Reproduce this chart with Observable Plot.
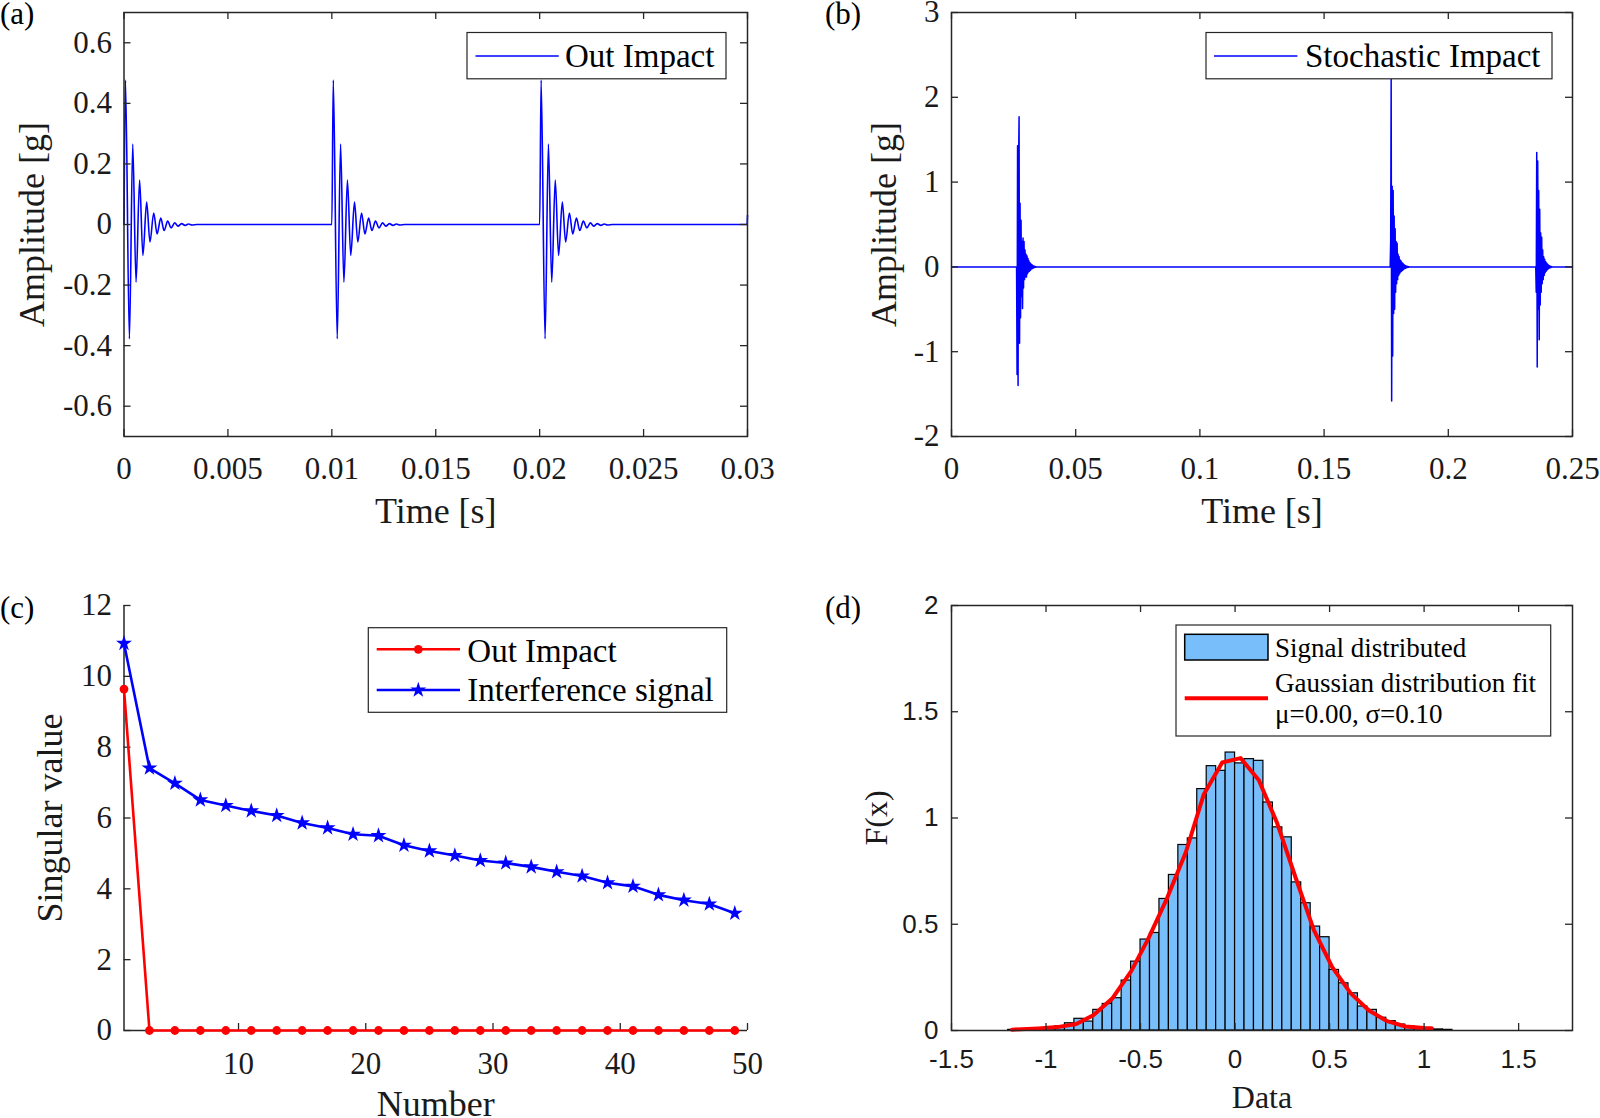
<!DOCTYPE html>
<html>
<head>
<meta charset="utf-8">
<script src="https://cdn.jsdelivr.net/npm/d3@7"></script>
<script src="https://cdn.jsdelivr.net/npm/@observablehq/plot@0.6"></script>
<style>
  html, body { margin: 0; padding: 0; background: #fff; overflow: hidden; }
  #fig { position: relative; width: 1600px; height: 1118px; overflow: hidden; background: #fff; }
  #fig svg { position: absolute; overflow: visible; }
</style>
</head>
<body>
<div id="fig"></div>
<script>
// ---------- (a) periodic outer-race impact: one damped burst, repeated ----------
const burstA_t = [0, 0.00007, 0.00026, 0.00042, 0.00058, 0.00075, 0.00091, 0.00109, 0.00125,
  0.00143, 0.00159, 0.00177, 0.00193, 0.0021, 0.00227, 0.00244, 0.0026, 0.00277, 0.00294,
  0.0031, 0.00327, 0.0035];
const burstA_v = [0, 0.477, -0.377, 0.266, -0.19, 0.147, -0.102, 0.074, -0.058,
  0.038, -0.031, 0.021, -0.02, 0.011, -0.011, 0.0055, -0.0055, 0.003, -0.003,
  0.0015, -0.0015, 0];
const onsetsA = [0, 0.01, 0.02];
const edgeA_t = [0.02998, 0.03];
const edgeA_v = [0, 0.03];
const xTicksA = [0, 0.005, 0.01, 0.015, 0.02, 0.025, 0.03];
const yTicksA = [-0.6, -0.4, -0.2, 0, 0.2, 0.4, 0.6];

// ---------- (b) stochastic impacts ----------
const onsetsB = [0.0262, 0.1766, 0.2352];
const stepB = 0.0002;
const burstB1 = [-1.27, 1.43, -1.40, 1.2, 1.77, -0.9, 0.75, -0.6, 0.55, -0.35, 0.3, -0.49, 0.34,
  -0.25, 0.3, -0.15, 0.2, -0.12, 0.15, -0.12, 0.13, -0.08, 0.1, -0.06, 0.07, -0.05, 0.05,
  -0.04, 0.035, -0.025, 0.025, -0.02, 0.015, -0.012, 0.01, -0.008, 0.005, -0.004, 0.002, 0];
const burstB2 = [0.3, 2.22, -1.58, 0.95, -1.05, 0.9, -0.55, 0.6, -0.5, 0.45, -0.3, 0.3, -0.2,
  0.28, -0.15, 0.15, -0.1, 0.12, -0.08, 0.08, -0.06, 0.07, -0.05, 0.05, -0.04, 0.04, -0.03,
  0.025, -0.02, 0.018, -0.015, 0.012, -0.01, 0.008, -0.006, 0.004, -0.003, 0.002, 0];
const burstB3 = [-0.3, 1.35, -1.18, 1.25, -0.5, 0.9, -0.86, 0.68, -0.45, 0.4, -0.3, 0.35, -0.2,
  0.2, -0.15, 0.12, -0.1, 0.09, -0.07, 0.06, -0.05, 0.045, -0.035, 0.03, -0.025, 0.02,
  -0.015, 0.012, -0.01, 0.008, -0.006, 0.004, 0];
const xTicksB = [0, 0.05, 0.1, 0.15, 0.2, 0.25];
const yTicksB = [-2, -1, 0, 1, 2, 3];

// ---------- (c) singular values ----------
const svIndex = [1, 3, 5, 7, 9, 11, 13, 15, 17, 19, 21, 23, 25, 27, 29, 31, 33, 35, 37, 39, 41, 43, 45, 47, 49];
const svOutImpact = [9.64, 0, 0, 0, 0, 0, 0, 0, 0, 0, 0, 0, 0, 0, 0, 0, 0, 0, 0, 0, 0, 0, 0, 0, 0];
const svInterference = [10.93, 7.41, 6.98, 6.51, 6.35, 6.20, 6.07, 5.86, 5.72, 5.54, 5.50, 5.23,
  5.07, 4.94, 4.80, 4.73, 4.62, 4.48, 4.36, 4.17, 4.07, 3.83, 3.68, 3.57, 3.31];
const xTicksC = [10, 20, 30, 40, 50];
const yTicksC = [0, 2, 4, 6, 8, 10, 12];

// ---------- (d) amplitude distribution ----------
const binStart = -1.2;
const binWidth = 0.05;
const binHeights = [0.003, 0.004, 0.006, 0.009, 0.014, 0.02, 0.034, 0.055, 0.042, 0.097,
  0.125, 0.152, 0.235, 0.324, 0.428, 0.459, 0.619, 0.732, 0.873, 0.904, 1.136, 1.244,
  1.222, 1.308, 1.257, 1.277, 1.269, 1.073, 0.956, 0.909, 0.697, 0.599, 0.489, 0.439,
  0.285, 0.222, 0.175, 0.113, 0.097, 0.060, 0.044, 0.028, 0.019, 0.0125, 0.008, 0.005, 0.003];
const fitX = [-1.18, -1.04, -0.94, -0.84, -0.75, -0.65, -0.55, -0.46, -0.36, -0.26, -0.165,
  -0.068, 0.029, 0.126, 0.223, 0.32, 0.417, 0.514, 0.611, 0.708, 0.805, 0.902, 0.999, 1.04];
const fitY = [0.004, 0.010, 0.016, 0.031, 0.072, 0.150, 0.278, 0.430, 0.622, 0.840, 1.112,
  1.261, 1.282, 1.178, 0.975, 0.72, 0.472, 0.298, 0.176, 0.094, 0.044, 0.019, 0.012, 0.011];
const xTicksD = [-1.5, -1, -0.5, 0, 0.5, 1, 1.5];
const yTicksD = [0, 0.5, 1, 1.5, 2];

// ---------- styling ----------
const BLUE = "#0000ff", RED = "#ff0000", AXIS = "#262626", INK = "#1a1a1a";
const BAR_FILL = "#77befa";
const SERIF = "'Liberation Serif', 'Times New Roman', Times, serif";
const SANS = "'Liberation Sans', Arial, Helvetica, sans-serif";
const fmt = d => d3.format("~g")(d).replace("\u2212", "-");
const baseStyle = {fontFamily: SERIF, fontSize: "31px", color: INK, background: "none", overflow: "visible"};
const DOT_R = 4.4, STAR_R = 5;

// inward tick marks along the frame edges
function innerTicks(xt, yt, fw, fh, {len = 7, top = true, right = true} = {}) {
  const o = {stroke: AXIS, strokeWidth: 1.3};
  const m = [
    Plot.ruleX(xt, {...o, insetTop: fh - len}),
    Plot.ruleY(yt, {...o, insetRight: fw - len})
  ];
  if (top) m.push(Plot.ruleX(xt, {...o, insetBottom: fh - len}));
  if (right) m.push(Plot.ruleY(yt, {...o, insetLeft: fw - len}));
  return m;
}

// axis titles drawn as text marks anchored to the frame
function xTitle(s, dy, size) {
  return Plot.text([s], {text: d => d, frameAnchor: "bottom", dy, lineAnchor: "bottom", textAnchor: "middle", fontSize: size, fill: INK});
}
function yTitle(s, dx, size) {
  return Plot.text([s], {text: d => d, frameAnchor: "left", dx, rotate: -90, textAnchor: "middle", lineAnchor: "middle", fontSize: size, fill: INK});
}

function place(svg, left, top) {
  svg.style.left = left + "px";
  svg.style.top = top + "px";
  document.getElementById("fig").appendChild(svg);
}

// ---------- build series ----------
const seriesA = [];
for (const t0 of onsetsA) burstA_t.forEach((dt, i) => seriesA.push({t: t0 + dt, v: burstA_v[i]}));
edgeA_t.forEach((t, i) => seriesA.push({t, v: edgeA_v[i]}));

const seriesB = [{t: 0, v: 0}];
[burstB1, burstB2, burstB3].forEach((vals, k) => {
  const t0 = onsetsB[k];
  seriesB.push({t: t0, v: 0});
  vals.forEach((v, i) => seriesB.push({t: t0 + (i + 1) * stepB, v}));
});
seriesB.push({t: 0.25, v: 0});

const svRows = svIndex.map((n, i) => ({n, out: svOutImpact[i], inter: svInterference[i]}));
const bins = binHeights.map((h, i) => ({x1: binStart + i * binWidth, x2: binStart + (i + 1) * binWidth, h}));
const fitRows = fitX.map((x, i) => ({x, y: fitY[i]}));

// ---------- (a) ----------
{
  const W = 800, H = 540, mL = 123.5, mR = 53, mT = 12, mB = 104;
  const fw = W - mL - mR, fh = H - mT - mB;
  place(Plot.plot({
    width: W, height: H, marginLeft: mL, marginRight: mR, marginTop: mT, marginBottom: mB,
    x: {domain: [0, 0.03]}, y: {domain: [-0.7, 0.7]},
    style: baseStyle,
    marks: [
      Plot.line(seriesA, {x: "t", y: "v", stroke: BLUE, strokeWidth: 1.6, curve: "monotone-x"}),
      ...innerTicks(xTicksA, yTicksA, fw, fh),
      Plot.frame({stroke: AXIS, strokeWidth: 1.5}),
      Plot.axisX(xTicksA, {tickSize: 0, tickPadding: 20, tickFormat: fmt, label: null, fill: INK}),
      Plot.axisY(yTicksA, {tickSize: 0, tickPadding: 12, tickFormat: fmt, label: null, fill: INK}),
      xTitle("Time [s]", 86, 36),
      yTitle("Amplitude [g]", -91.5, 36)
    ]
  }), 0, 0);
}

// ---------- (b) ----------
{
  const W = 800, H = 540, mL = 151, mR = 28, mT = 12, mB = 104;
  const fw = W - mL - mR, fh = H - mT - mB;
  place(Plot.plot({
    width: W, height: H, marginLeft: mL, marginRight: mR, marginTop: mT, marginBottom: mB,
    x: {domain: [0, 0.25]}, y: {domain: [-2, 3]},
    style: baseStyle,
    marks: [
      Plot.line(seriesB, {x: "t", y: "v", stroke: BLUE, strokeWidth: 1.5}),
      ...innerTicks(xTicksB, yTicksB, fw, fh),
      Plot.frame({stroke: AXIS, strokeWidth: 1.5}),
      Plot.axisX(xTicksB, {tickSize: 0, tickPadding: 20, tickFormat: fmt, label: null, fill: INK}),
      Plot.axisY(yTicksB, {tickSize: 0, tickPadding: 12, tickFormat: fmt, label: null, fill: INK}),
      xTitle("Time [s]", 86, 36),
      yTitle("Amplitude [g]", -67, 36)
    ]
  }), 800, 0);
}

// ---------- (c) ----------
{
  const W = 800, H = 558, mL = 123.5, mR = 53, mT = 45, mB = 88;
  const fw = W - mL - mR, fh = H - mT - mB;
  place(Plot.plot({
    width: W, height: H, marginLeft: mL, marginRight: mR, marginTop: mT, marginBottom: mB,
    x: {domain: [1, 50]}, y: {domain: [0, 12]},
    style: baseStyle,
    marks: [
      ...innerTicks(xTicksC, yTicksC, fw, fh, {top: false, right: false}),
      Plot.ruleX([1], {stroke: AXIS, strokeWidth: 1.5}),
      Plot.ruleY([0], {stroke: AXIS, strokeWidth: 1.5}),
      Plot.line(svRows, {x: "n", y: "out", stroke: RED, strokeWidth: 2.6}),
      Plot.dot(svRows, {x: "n", y: "out", fill: RED, r: DOT_R}),
      Plot.line(svRows, {x: "n", y: "inter", stroke: BLUE, strokeWidth: 2.6}),
      Plot.dot(svRows, {x: "n", y: "inter", fill: BLUE, symbol: "star", r: STAR_R}),
      Plot.axisX(xTicksC, {tickSize: 0, tickPadding: 21, tickFormat: fmt, label: null, fill: INK}),
      Plot.axisY(yTicksC, {tickSize: 0, tickPadding: 12, tickFormat: fmt, label: null, fill: INK}),
      xTitle("Number", 85, 36),
      yTitle("Singular value", -73.5, 36)
    ]
  }), 0, 560);
}

// ---------- (d) ----------
{
  const W = 800, H = 558, mL = 151, mR = 28, mT = 45, mB = 88;
  const fw = W - mL - mR, fh = H - mT - mB;
  place(Plot.plot({
    width: W, height: H, marginLeft: mL, marginRight: mR, marginTop: mT, marginBottom: mB,
    x: {domain: [-1.5, 1.785]}, y: {domain: [0, 2]},
    style: baseStyle,
    marks: [
      Plot.rectY(bins, {x1: "x1", x2: "x2", y: "h", fill: BAR_FILL, stroke: "#000", strokeWidth: 1.2}),
      Plot.line(fitRows, {x: "x", y: "y", stroke: RED, strokeWidth: 4, strokeLinejoin: "round"}),
      ...innerTicks(xTicksD, yTicksD, fw, fh),
      Plot.frame({stroke: AXIS, strokeWidth: 1.5}),
      Plot.axisX(xTicksD, {tickSize: 0, tickPadding: 19, tickFormat: fmt, label: null, fontFamily: SANS, fontSize: 26, fill: INK}),
      Plot.axisY(yTicksD, {tickSize: 0, tickPadding: 13, tickFormat: fmt, label: null, fontFamily: SANS, fontSize: 26, fill: INK}),
      xTitle("Data", 77, 32),
      yTitle("F(x)", -75, 32)
    ]
  }), 800, 560);
}

// ---------- legends and panel tags ----------
const overlay = d3.select("#fig").append("svg")
  .attr("width", 1600).attr("height", 1118)
  .style("left", "0px").style("top", "0px")
  .style("font-family", SERIF);

function legendBox(x, y, w, h) {
  overlay.append("rect").attr("x", x).attr("y", y).attr("width", w).attr("height", h)
    .attr("fill", "#fff").attr("stroke", AXIS).attr("stroke-width", 1.2);
}
function legendLine(x1, x2, y, color, width) {
  overlay.append("line").attr("x1", x1).attr("x2", x2).attr("y1", y).attr("y2", y)
    .attr("stroke", color).attr("stroke-width", width);
}
function legendText(x, y, s, size) {
  overlay.append("text").attr("x", x).attr("y", y).attr("font-size", size).attr("fill", "#000").text(s);
}

// (a)
legendBox(467, 32.5, 259, 46.3);
legendLine(475.5, 558.7, 56, BLUE, 1.6);
legendText(565, 67, "Out Impact", 33);
// (b)
legendBox(1206, 32.5, 346, 46.3);
legendLine(1214, 1297.4, 56, BLUE, 1.6);
legendText(1305, 67, "Stochastic Impact", 33);
// (c)
legendBox(368.3, 627.7, 358.4, 84.6);
legendLine(376.7, 460, 649.3, RED, 2.6);
overlay.append("circle").attr("cx", 418.3).attr("cy", 649.3).attr("r", DOT_R).attr("fill", RED);
legendLine(376.7, 460, 690, BLUE, 2.6);
overlay.append("path").attr("transform", "translate(418.3,690)")
  .attr("d", d3.symbol(d3.symbolStar, Math.PI * STAR_R * STAR_R)()).attr("fill", BLUE);
legendText(467.3, 661.7, "Out Impact", 33);
legendText(467.3, 701, "Interference signal", 33);
// (d)
legendBox(1176, 625, 374.7, 111);
overlay.append("rect").attr("x", 1184.7).attr("y", 634.3).attr("width", 83.3).attr("height", 25.7)
  .attr("fill", BAR_FILL).attr("stroke", "#000").attr("stroke-width", 1.5);
legendLine(1184.7, 1268, 698.3, RED, 4);
legendText(1275, 656.7, "Signal distributed", 27);
legendText(1275, 691.7, "Gaussian distribution fit", 27);
legendText(1275, 723, "\u03bc=0.00, \u03c3=0.10", 27);

// panel tags
[["(a)", 0, 24], ["(b)", 825, 24], ["(c)", 0, 618], ["(d)", 825, 618]].forEach(([s, x, y]) =>
  overlay.append("text").attr("x", x).attr("y", y).attr("font-size", 31).attr("fill", "#000").text(s));
</script>
</body>
</html>
